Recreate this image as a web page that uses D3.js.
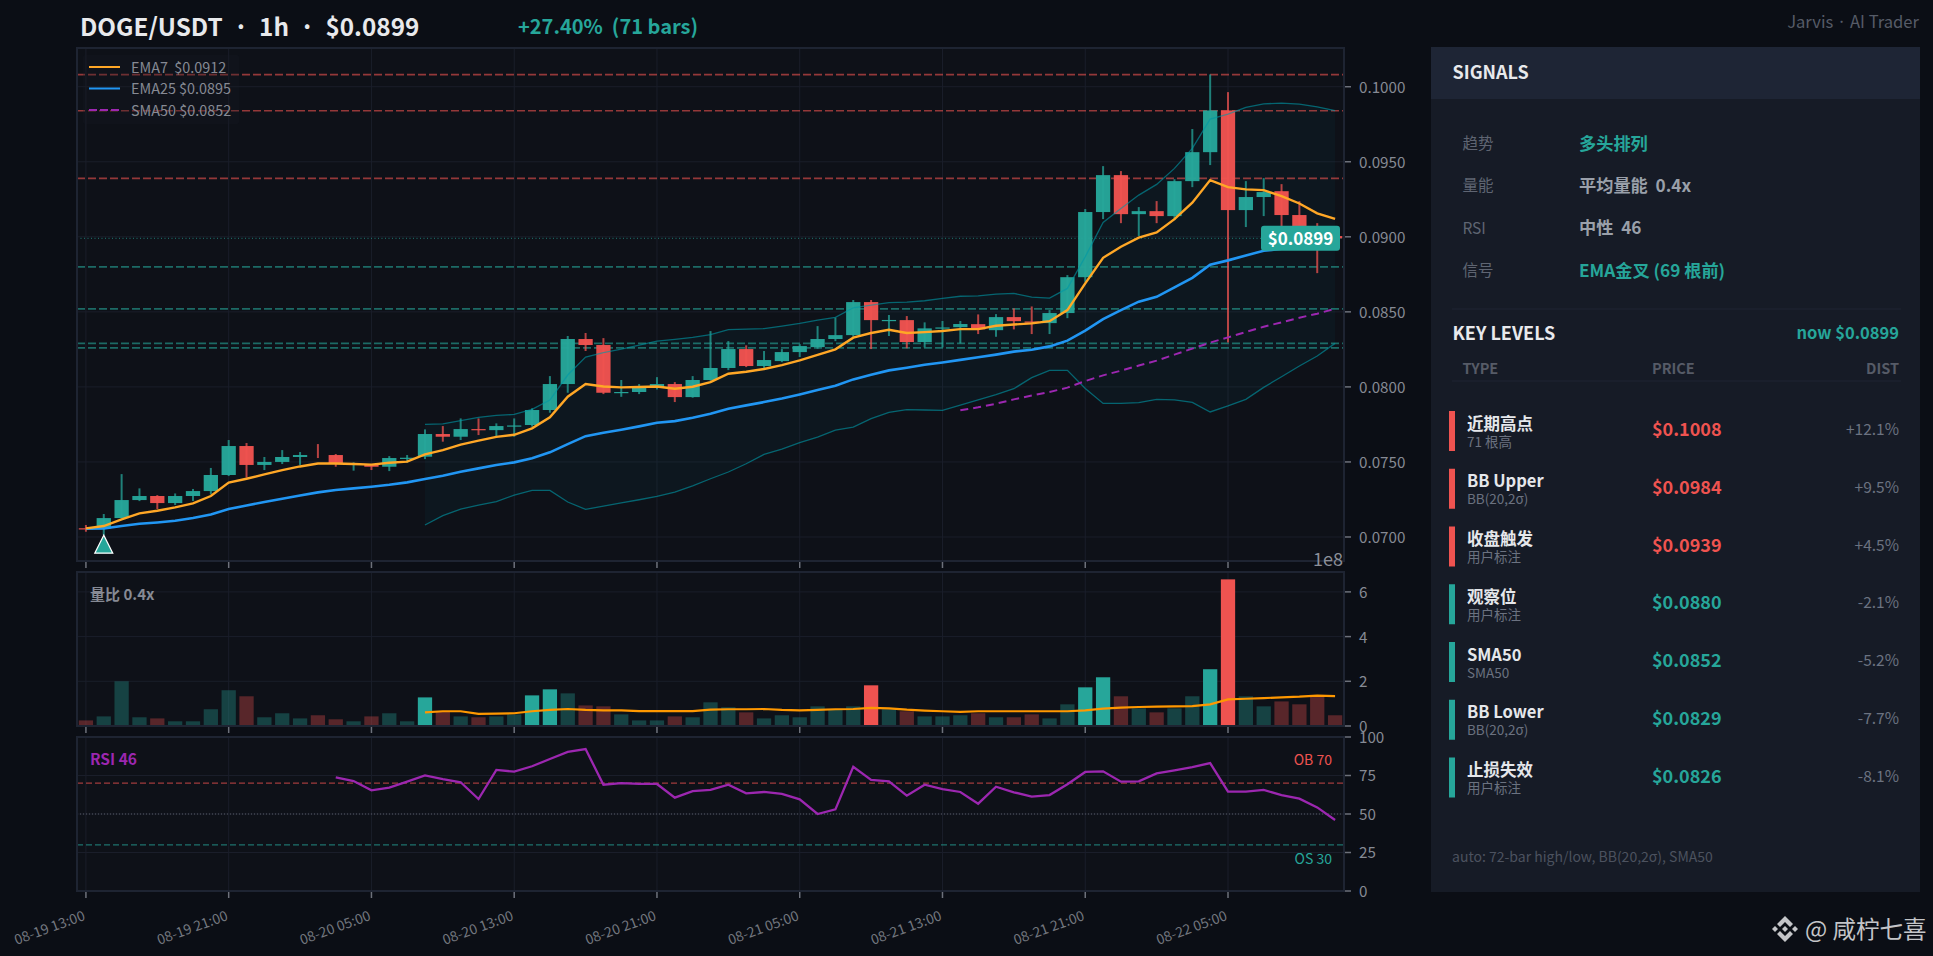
<!DOCTYPE html>
<html>
<head>
<meta charset="utf-8">
<script src="https://cdn.jsdelivr.net/npm/d3@7"></script>
<style>
  html, body { margin: 0; padding: 0; background: #0b0e15; overflow: hidden; }
  svg { display: block; }
  text { font-family: "Noto Sans CJK SC", "Noto Sans", sans-serif; white-space: pre; dominant-baseline: central; }
  .axis .domain { display: none; }
  .axis text { fill: #868a94; font-size: 15.2px; dominant-baseline: auto; }
  .axis line { stroke: #6d717b; stroke-width: 1.5; }
  .grid line { stroke: #1a1e2a; stroke-width: 1; }
</style>
</head>
<body>
<script>
// data
const opens = [0.07058,0.07057,0.07126,0.07246,0.07273,0.07226,0.07273,0.07306,0.07413,0.07606,0.07480,0.07500,0.07533,0.07546,0.07546,0.07490,0.07484,0.07468,0.07526,0.07535,0.07686,0.07668,0.07719,0.07712,0.07740,0.07746,0.07846,0.08019,0.08319,0.08279,0.07961,0.07966,0.07994,0.08019,0.07932,0.08046,0.08126,0.08252,0.08139,0.08172,0.08232,0.08265,0.08319,0.08345,0.08565,0.08445,0.08445,0.08299,0.08390,0.08398,0.08418,0.08378,0.08465,0.08436,0.08425,0.08492,0.08731,0.09165,0.09411,0.09151,0.09171,0.09138,0.09371,0.09564,0.09842,0.09178,0.09265,0.09304,0.09145,0.09040,0.09005];
const closes = [0.07056,0.07126,0.07246,0.07273,0.07226,0.07273,0.07306,0.07413,0.07606,0.07480,0.07500,0.07533,0.07546,0.07546,0.07490,0.07492,0.07468,0.07526,0.07528,0.07686,0.07668,0.07719,0.07717,0.07739,0.07743,0.07846,0.08019,0.08319,0.08279,0.07961,0.07966,0.07994,0.08019,0.07932,0.08046,0.08126,0.08252,0.08139,0.08179,0.08232,0.08272,0.08319,0.08345,0.08565,0.08445,0.08446,0.08299,0.08390,0.08396,0.08419,0.08383,0.08465,0.08438,0.08432,0.08492,0.08731,0.09165,0.09411,0.09151,0.09171,0.09138,0.09371,0.09564,0.09842,0.09178,0.09265,0.09298,0.09145,0.09040,0.09005,0.08990];
const highs = [0.07080,0.07153,0.07419,0.07324,0.07279,0.07290,0.07320,0.07460,0.07646,0.07626,0.07533,0.07579,0.07566,0.07619,0.07553,0.07497,0.07486,0.07539,0.07546,0.07717,0.07739,0.07790,0.07790,0.07757,0.07790,0.07857,0.08072,0.08339,0.08359,0.08325,0.08046,0.08019,0.08065,0.08032,0.08072,0.08372,0.08305,0.08277,0.08239,0.08252,0.08285,0.08405,0.08461,0.08579,0.08579,0.08479,0.08472,0.08430,0.08439,0.08439,0.08483,0.08485,0.08523,0.08536,0.08512,0.08745,0.09185,0.09471,0.09438,0.09198,0.09238,0.09384,0.09718,0.10082,0.09964,0.09371,0.09391,0.09351,0.09238,0.09091,0.09030];
const lows = [0.07035,0.07013,0.07126,0.07239,0.07186,0.07213,0.07240,0.07284,0.07406,0.07395,0.07446,0.07486,0.07480,0.07526,0.07468,0.07442,0.07446,0.07439,0.07495,0.07519,0.07635,0.07646,0.07679,0.07668,0.07668,0.07735,0.07828,0.07961,0.08239,0.07952,0.07934,0.07952,0.07983,0.07899,0.07928,0.08041,0.08112,0.08132,0.08126,0.08165,0.08199,0.08254,0.08305,0.08334,0.08252,0.08339,0.08257,0.08263,0.08263,0.08290,0.08352,0.08334,0.08383,0.08352,0.08352,0.08458,0.08700,0.09118,0.09091,0.09005,0.09091,0.09111,0.09331,0.09478,0.08296,0.09065,0.09138,0.09067,0.09000,0.08758,0.08970];

const ema7 = [0.07057,0.07073,0.07117,0.07157,0.07175,0.07197,0.07224,0.07273,0.07362,0.07388,0.07417,0.07446,0.07470,0.07490,0.07490,0.07486,0.07482,0.07495,0.07502,0.07551,0.07579,0.07615,0.07642,0.07667,0.07681,0.07724,0.07797,0.07935,0.08019,0.08003,0.07997,0.07999,0.08003,0.07988,0.08001,0.08032,0.08088,0.08101,0.08119,0.08145,0.08177,0.08214,0.08250,0.08328,0.08359,0.08381,0.08359,0.08365,0.08372,0.08385,0.08385,0.08407,0.08416,0.08423,0.08438,0.08512,0.08690,0.08860,0.08934,0.08994,0.09029,0.09118,0.09227,0.09378,0.09331,0.09316,0.09311,0.09271,0.09222,0.09156,0.09120];
const ema25 = [0.07055,0.07057,0.07073,0.07088,0.07097,0.07108,0.07126,0.07150,0.07186,0.07210,0.07233,0.07255,0.07277,0.07297,0.07313,0.07324,0.07335,0.07348,0.07364,0.07386,0.07408,0.07435,0.07457,0.07480,0.07497,0.07524,0.07564,0.07619,0.07672,0.07695,0.07715,0.07737,0.07761,0.07772,0.07795,0.07821,0.07855,0.07877,0.07899,0.07923,0.07950,0.07979,0.08008,0.08050,0.08081,0.08110,0.08128,0.08148,0.08163,0.08180,0.08197,0.08215,0.08235,0.08248,0.08270,0.08308,0.08375,0.08452,0.08512,0.08568,0.08600,0.08663,0.08727,0.08814,0.08843,0.08876,0.08907,0.08920,0.08930,0.08940,0.08950];
const smaStart = 49;
const sma50 = [0.07844,0.07864,0.07888,0.07917,0.07942,0.07966,0.07995,0.08039,0.08077,0.08108,0.08142,0.08175,0.08215,0.08255,0.08295,0.08330,0.08366,0.08401,0.08430,0.08461,0.08488,0.08520];
const bbStart = 19;
const bbUpper = [0.07750,0.07753,0.07775,0.07797,0.07810,0.07817,0.07850,0.07912,0.08079,0.08199,0.08228,0.08252,0.08279,0.08305,0.08317,0.08330,0.08348,0.08381,0.08385,0.08388,0.08405,0.08423,0.08445,0.08463,0.08527,0.08545,0.08561,0.08565,0.08574,0.08590,0.08604,0.08607,0.08618,0.08623,0.08598,0.08592,0.08656,0.08867,0.09096,0.09189,0.09278,0.09349,0.09456,0.09589,0.09784,0.09818,0.09862,0.09886,0.09891,0.09884,0.09866,0.09840];
const bbLower = [0.07080,0.07142,0.07186,0.07213,0.07235,0.07279,0.07310,0.07310,0.07233,0.07184,0.07206,0.07228,0.07248,0.07270,0.07299,0.07341,0.07388,0.07433,0.07488,0.07550,0.07586,0.07628,0.07666,0.07712,0.07732,0.07788,0.07830,0.07848,0.07846,0.07843,0.07879,0.07913,0.07948,0.07988,0.08062,0.08110,0.08110,0.07990,0.07890,0.07890,0.07895,0.07917,0.07913,0.07897,0.07833,0.07873,0.07917,0.07997,0.08068,0.08139,0.08206,0.08290];

const volumes = [0.25,0.43,2.0,0.39,0.34,0.21,0.21,0.75,1.6,1.33,0.39,0.57,0.34,0.48,0.30,0.21,0.43,0.57,0.21,1.28,0.63,0.43,0.39,0.43,0.52,1.37,1.64,1.46,0.92,0.88,0.52,0.25,0.25,0.43,0.39,1.06,0.84,0.61,0.34,0.48,0.39,0.88,0.75,0.88,1.82,0.75,0.66,0.43,0.43,0.48,0.57,0.39,0.39,0.52,0.34,0.97,1.73,2.18,1.33,0.79,0.61,0.79,1.33,2.54,6.56,1.33,0.88,1.10,0.97,1.33,0.48];
const volumeSpikes = [19,25,26,44,56,57,63,64];
const volMaStart = 19;
const volMa = [0.61,0.66,0.66,0.54,0.55,0.57,0.66,0.72,0.76,0.72,0.70,0.70,0.67,0.67,0.67,0.67,0.73,0.75,0.75,0.76,0.72,0.70,0.72,0.75,0.76,0.81,0.79,0.73,0.69,0.66,0.63,0.66,0.66,0.66,0.66,0.66,0.66,0.70,0.78,0.82,0.85,0.87,0.88,0.89,0.97,1.19,1.22,1.25,1.28,1.31,1.36,1.34];
const rsiStart = 14;
const rsi = [73.8,71.4,65.4,67.1,71,75.1,72.7,70.6,59.7,78.6,77.5,81,85.7,90.3,92.2,69,70.1,69.5,69.5,60.6,64.9,65.6,69,63.4,64.3,63,59.5,50,53,80.7,72.1,71.2,61.9,69,66.2,64.3,56.7,67.7,64.1,61.3,62.3,69.3,77.3,77.7,71,71.2,76.4,78.4,80.5,83.1,64.5,64.5,65.6,62.3,60,54.3,46.1];

const timeTickIndex = [0,8,16,24,32,40,48,56,64];
const timeTickLabels = ['08-19 13:00','08-19 21:00','08-20 05:00','08-20 13:00','08-20 21:00','08-21 05:00','08-21 13:00','08-21 21:00','08-22 05:00'];
const priceTicks = [0.07,0.075,0.08,0.085,0.09,0.095,0.1];
const volumeTicks = [0,2,4,6];
const rsiTicks = [0,25,50,75,100];

const lastPrice = 0.0899;
const crossBar = 1;
const crossPrice = 0.06952;
const levelPrices = [0.1008,0.0984,0.0939,0.0880,0.0852,0.0829,0.0826];
const levelNames = ['近期高点','BB Upper','收盘触发','观察位','SMA50','BB Lower','止损失效'];
const levelSubs = ['71 根高','BB(20,2σ)','用户标注','用户标注','SMA50','BB(20,2σ)','用户标注'];
const levelDists = ['+12.1%','+9.5%','+4.5%','-2.1%','-5.2%','-7.7%','-8.1%'];
const signalLabels = ['趋势','量能','RSI','信号'];
const signalValues = ['多头排列','平均量能  0.4x','中性  46','EMA金叉 (69 根前)'];
const signalColors = ['#26a69a','#9aa0aa','#9aa0aa','#26a69a'];
const legendNames = ['EMA7  $0.0912','EMA25 $0.0895','SMA50 $0.0852'];

const UP = '#26a69a';
const DOWN = '#ef5350';

const width = 1933;
const height = 956;
const plot = { left: 77, right: 1344 };
const mainBox = { top: 48, bottom: 561 };
const volBox = { top: 572, bottom: 726 };
const rsiBox = { top: 737, bottom: 891 };

const svg = d3.select('body').append('svg').attr('width', width).attr('height', height);

// scales
const x = d3.scaleBand().domain(d3.range(71)).range([plot.left, plot.right]).paddingInner(0.2).paddingOuter(0.1);
const cx = (i) => x(i) + x.bandwidth() / 2;
const y = d3.scaleLinear().domain([0.0684, 0.10258]).range([mainBox.bottom, mainBox.top]);
const yVol = d3.scaleLinear().domain([0, 6.89]).range([volBox.bottom, volBox.top]);
const yRsi = d3.scaleLinear().domain([0, 100]).range([rsiBox.bottom, rsiBox.top]);

// panel frames, grids and axes
const drawFrame = (box, scale, ticks, fmt) => {
  const w = plot.right - plot.left;
  svg.append('rect').attr('x', plot.left).attr('y', box.top).attr('width', w).attr('height', box.bottom - box.top).attr('fill', '#0e1118');
  svg.append('g').attr('class', 'grid').attr('transform', `translate(${plot.left},0)`)
    .call(d3.axisLeft(scale).tickValues(ticks).tickSize(-w).tickFormat('').offset(0))
    .call((g) => g.select('.domain').remove());
  svg.append('g').attr('class', 'grid').attr('transform', `translate(0,${box.bottom})`)
    .call(d3.axisBottom(x).tickValues(timeTickIndex).tickSize(box.top - box.bottom).tickFormat('').offset(0))
    .call((g) => g.select('.domain').remove());
  svg.append('g').attr('class', 'axis').attr('transform', `translate(${plot.right},0)`)
    .call(d3.axisRight(scale).tickValues(ticks).tickSize(7).tickPadding(8).tickFormat(fmt).offset(0))
    .call((g) => g.selectAll('text').attr('dy', '0.39em'));
  svg.append('g').attr('class', 'axis').attr('transform', `translate(0,${box.bottom})`)
    .call(d3.axisBottom(x).tickValues(timeTickIndex).tickSize(7).tickFormat('').offset(0));
};
drawFrame(mainBox, y, priceTicks, d3.format('.4f'));
drawFrame(volBox, yVol, volumeTicks, d3.format('d'));
drawFrame(rsiBox, yRsi, rsiTicks, d3.format('d'));

// bollinger band
const bbRows = bbUpper.map((u, i) => ({ i: i + bbStart, u, l: bbLower[i] }));
svg.append('path').datum(bbRows).attr('fill', '#00acc1').attr('fill-opacity', 0.04)
  .attr('d', d3.area().x((d) => cx(d.i)).y0((d) => y(d.l)).y1((d) => y(d.u)));

// key levels
svg.append('g').selectAll('line').data(levelPrices).enter().append('line')
  .attr('x1', plot.left).attr('x2', plot.right)
  .attr('y1', (d) => y(d)).attr('y2', (d) => y(d))
  .attr('stroke', (d) => (d > lastPrice ? DOWN : UP))
  .attr('stroke-opacity', 0.6).attr('stroke-width', 1.7).attr('stroke-dasharray', '8 3');
svg.append('line').attr('x1', plot.left).attr('x2', plot.right)
  .attr('y1', y(lastPrice)).attr('y2', y(lastPrice))
  .attr('stroke', UP).attr('stroke-opacity', 0.7).attr('stroke-width', 1).attr('stroke-dasharray', '1 2.5');

// candles
const candles = d3.range(71);
const isUp = (i) => closes[i] > opens[i];
svg.append('g').selectAll('line').data(candles).enter().append('line')
  .attr('x1', cx).attr('x2', cx)
  .attr('y1', (i) => y(highs[i])).attr('y2', (i) => y(lows[i]))
  .attr('stroke', (i) => (isUp(i) ? UP : DOWN)).attr('stroke-opacity', 0.75).attr('stroke-width', 2);
svg.append('g').selectAll('rect').data(candles.filter((i) => opens[i] !== closes[i])).enter().append('rect')
  .attr('x', (i) => x(i)).attr('width', x.bandwidth())
  .attr('y', (i) => y(Math.max(opens[i], closes[i])))
  .attr('height', (i) => Math.max(1.2, y(Math.min(opens[i], closes[i])) - y(Math.max(opens[i], closes[i]))))
  .attr('fill', (i) => (isUp(i) ? UP : DOWN)).attr('fill-opacity', 0.97);

// moving averages
const priceLine = (start) => d3.line().x((d, i) => cx(i + start)).y((d) => y(d));
const bbLine = priceLine(bbStart);
svg.append('path').attr('d', bbLine(bbUpper)).attr('fill', 'none').attr('stroke', '#0097a7').attr('stroke-opacity', 0.62).attr('stroke-width', 1.3);
svg.append('path').attr('d', bbLine(bbLower)).attr('fill', 'none').attr('stroke', '#0097a7').attr('stroke-opacity', 0.62).attr('stroke-width', 1.3);
svg.append('path').attr('d', priceLine(smaStart)(sma50)).attr('fill', 'none').attr('stroke', '#9c27b0').attr('stroke-width', 2).attr('stroke-dasharray', '8 5');
svg.append('path').attr('d', priceLine(0)(ema25)).attr('fill', 'none').attr('stroke', '#2196f3').attr('stroke-width', 2.6);
svg.append('path').attr('d', priceLine(0)(ema7)).attr('fill', 'none').attr('stroke', '#ffa726').attr('stroke-width', 2.4);

// golden cross marker
svg.append('path')
  .attr('d', `M${cx(crossBar)},${y(crossPrice) - 9}l-9,18h18z`)
  .attr('fill', UP).attr('stroke', '#ffffff').attr('stroke-width', 1.2);

// legend
const legend = svg.append('g');
legend.append('rect').attr('x', 83).attr('y', 55).attr('width', 156).attr('height', 69).attr('rx', 3)
  .attr('fill', '#161b26').attr('fill-opacity', 0.3);
legendNames.forEach((name, i) => {
  const ly = 67 + i * 21.5;
  legend.append('line').attr('x1', 89).attr('x2', 120).attr('y1', ly).attr('y2', ly)
    .attr('stroke', ['#ffa726', '#2196f3', '#9c27b0'][i]).attr('stroke-width', 2)
    .attr('stroke-dasharray', i === 2 ? '8 3' : null);
  legend.append('text').attr('x', 131).attr('y', ly - 1).text(name).attr('fill', '#868a94').attr('font-size', '14.4px');
});

// last price badge
svg.append('rect').attr('x', 1261).attr('y', y(lastPrice) - 12.5).attr('width', 79).attr('height', 25).attr('rx', 3).attr('fill', UP);
svg.append('text').attr('x', 1300.5).attr('y', y(lastPrice) - 0.5).attr('text-anchor', 'middle')
  .text('$0.0899').attr('fill', '#ffffff').attr('font-size', '17px').attr('font-weight', 700);

// volume
svg.append('g').selectAll('rect').data(volumes).enter().append('rect')
  .attr('x', (d, i) => x(i)).attr('width', x.bandwidth())
  .attr('y', (d) => yVol(d)).attr('height', (d) => yVol(0) - yVol(d))
  .attr('fill', (d, i) => (isUp(i) ? UP : DOWN))
  .attr('fill-opacity', (d, i) => (volumeSpikes.includes(i) ? 1 : 0.33));
svg.append('path')
  .attr('d', d3.line().x((d, i) => cx(i + volMaStart)).y((d) => yVol(d))(volMa))
  .attr('fill', 'none').attr('stroke', '#ff9800').attr('stroke-width', 2.2);
svg.append('text').attr('x', 90).attr('y', 593).text('量比 0.4x').attr('fill', '#868a94').attr('font-size', '15px').attr('font-weight', 700);

// rsi
[[70, DOWN, '6 3', 0.65], [30, UP, '6 3', 0.65], [50, '#868a94', '1 2', 0.6]].forEach(([v, c, dash, op]) => {
  svg.append('line').attr('x1', plot.left).attr('x2', plot.right).attr('y1', yRsi(v)).attr('y2', yRsi(v))
    .attr('stroke', c).attr('stroke-opacity', op).attr('stroke-width', 1.2).attr('stroke-dasharray', dash);
});
svg.append('path')
  .attr('d', d3.line().x((d, i) => cx(i + rsiStart)).y((d) => yRsi(d))(rsi))
  .attr('fill', 'none').attr('stroke', '#9c27b0').attr('stroke-width', 2.3);
svg.append('text').attr('x', 90).attr('y', 758).text('RSI 46').attr('fill', '#9c27b0').attr('font-size', '15.5px').attr('font-weight', 700);
svg.append('text').attr('x', 1332).attr('y', 759).attr('text-anchor', 'end').text('OB 70').attr('fill', DOWN).attr('font-size', '14px');
svg.append('text').attr('x', 1332).attr('y', 858).attr('text-anchor', 'end').text('OS 30').attr('fill', UP).attr('font-size', '14px');

// spines on top
[mainBox, volBox, rsiBox].forEach((box) => {
  svg.append('rect').attr('x', plot.left).attr('y', box.top).attr('width', plot.right - plot.left).attr('height', box.bottom - box.top)
    .attr('fill', 'none').attr('stroke', '#1e2432').attr('stroke-width', 2);
});
svg.append('text').attr('x', 1343).attr('y', 558).attr('text-anchor', 'end').text('1e8').attr('fill', '#8b8f98').attr('font-size', '18px');

// time labels
svg.append('g').selectAll('text').data(timeTickIndex).enter().append('text')
  .attr('transform', (d) => `translate(${cx(d) - 2},${rsiBox.bottom + 23}) rotate(-20)`)
  .attr('text-anchor', 'end').text((d, i) => timeTickLabels[i])
  .attr('fill', '#73777f').attr('font-size', '14px');

// header
svg.append('text').attr('x', 80).attr('y', 25).text('DOGE/USDT  ·  1h  ·  $0.0899').attr('fill', '#e8e9ec')
  .attr('font-size', '24.3px').attr('font-weight', 700).style('font-family', '"Noto Sans CJK JP"');
svg.append('text').attr('x', 518).attr('y', 25).text('+27.40%  (71 bars)').attr('fill', UP).attr('font-size', '20px').attr('font-weight', 700);
svg.append('text').attr('x', 1919).attr('y', 21).attr('text-anchor', 'end').text('Jarvis · AI Trader').attr('fill', '#565b67')
  .attr('font-size', '16.6px').style('font-family', '"Noto Sans CJK JP"');

// side panel
svg.append('rect').attr('x', 1431).attr('y', 47).attr('width', 489).attr('height', 845).attr('fill', '#161b26');
svg.append('rect').attr('x', 1431).attr('y', 47).attr('width', 489).attr('height', 52).attr('fill', '#1e2535');
svg.append('text').attr('x', 1452.5).attr('y', 71).text('SIGNALS').attr('fill', '#e8e9ec').attr('font-size', '18px').attr('font-weight', 700);

signalLabels.forEach((label, i) => {
  const ry = 142 + i * 42.4;
  svg.append('text').attr('x', 1462.5).attr('y', ry).text(label).attr('fill', '#5f6572').attr('font-size', '15.5px');
  svg.append('text').attr('x', 1579).attr('y', ry).text(signalValues[i]).attr('fill', signalColors[i]).attr('font-size', '17.2px').attr('font-weight', 700);
});

svg.append('line').attr('x1', 1452).attr('x2', 1901).attr('y1', 309).attr('y2', 309).attr('stroke', '#1e2432');
svg.append('text').attr('x', 1452.5).attr('y', 332).text('KEY LEVELS').attr('fill', '#e8e9ec').attr('font-size', '18px').attr('font-weight', 700);
svg.append('text').attr('x', 1899).attr('y', 332).attr('text-anchor', 'end').text('now $0.0899').attr('fill', UP).attr('font-size', '16.5px').attr('font-weight', 700);
svg.append('text').attr('x', 1462.5).attr('y', 367).text('TYPE').attr('fill', '#565b67').attr('font-size', '14.5px').attr('font-weight', 700);
svg.append('text').attr('x', 1652).attr('y', 367).text('PRICE').attr('fill', '#565b67').attr('font-size', '14.5px').attr('font-weight', 700);
svg.append('text').attr('x', 1899).attr('y', 367).attr('text-anchor', 'end').text('DIST').attr('fill', '#565b67').attr('font-size', '14.5px').attr('font-weight', 700);
svg.append('line').attr('x1', 1452).attr('x2', 1901).attr('y1', 381).attr('y2', 381).attr('stroke', '#1e2432');

levelPrices.forEach((price, i) => {
  const ry = 431 + i * 57.75;
  const c = price > lastPrice ? DOWN : UP;
  svg.append('rect').attr('x', 1449).attr('y', ry - 20).attr('width', 6).attr('height', 40).attr('fill', c);
  svg.append('text').attr('x', 1467).attr('y', ry - 8.5).text(levelNames[i]).attr('fill', '#e5e7eb').attr('font-size', '16.5px').attr('font-weight', 700);
  svg.append('text').attr('x', 1467).attr('y', ry + 9.5).text(levelSubs[i]).attr('fill', '#6b7280').attr('font-size', '13.5px');
  svg.append('text').attr('x', 1652).attr('y', ry - 3).text('$' + price.toFixed(4)).attr('fill', c).attr('font-size', '18px').attr('font-weight', 700);
  svg.append('text').attr('x', 1899).attr('y', ry - 3).attr('text-anchor', 'end').text(levelDists[i]).attr('fill', '#6b7280').attr('font-size', '15.5px');
});

svg.append('text').attr('x', 1452).attr('y', 856).text('auto: 72-bar high/low, BB(20,2σ), SMA50').attr('fill', '#4c525f').attr('font-size', '14px');

// watermark
const mark = svg.append('g').attr('transform', 'translate(1785,929)').attr('fill', '#c4c5c8');
['M0,-13L8,-5L5,-2L0,-7L-5,-2L-8,-5Z', 'M0,13L8,5L5,2L0,7L-5,2L-8,5Z', 'M-10,-3L-13,0L-10,3L-7,0Z', 'M10,-3L13,0L10,3L7,0Z', 'M0,-3L3,0L0,3L-3,0Z']
  .forEach((p) => mark.append('path').attr('d', p));
svg.append('text').attr('x', 1805).attr('y', 928).text('@ 咸柠七喜').attr('fill', '#c4c5c8').attr('font-size', '23.5px');
</script>
</body>
</html>
